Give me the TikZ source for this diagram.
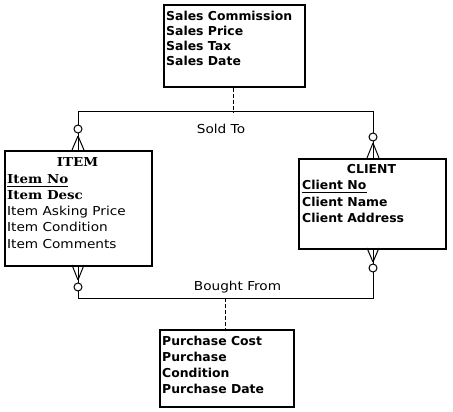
\documentclass[tikz,border=0pt]{standalone}
\usepackage{fontspec}
\setmainfont{DejaVu Sans}
\newfontfamily\sansreg[FakeStretch=1.11]{DejaVu Sans}
\newfontfamily\sansbld[FakeStretch=1.01]{DejaVu Sans}
\newfontfamily\serifbld[FakeStretch=1.09]{DejaVu Serif}
\begin{document}
\begin{tikzpicture}[x=1pt,y=-1pt,
  box/.style={draw,line width=1.6pt,inner sep=0pt,anchor=north west},
  attr/.style={anchor=base west,inner sep=0pt,font=\fontsize{12.3}{14}\selectfont\sansreg},
  battr/.style={attr,font=\fontsize{12.3}{14}\selectfont\sansbld\bfseries},
  sattr/.style={attr,font=\fontsize{12.3}{14}\selectfont\serifbld\bfseries},
  conn/.style={line width=1pt},
  rel/.style={line width=1pt,dash pattern=on 4pt off 2pt},
  lbl/.style={anchor=base,inner sep=0pt,font=\fontsize{12.3}{14}\selectfont\sansreg},
  ring/.style={draw,fill=white,circle,line width=1pt,minimum size=8pt,inner sep=0pt}]
\useasboundingbox (0,0) rectangle (453,412);
% boxes
\node[box,minimum width=141pt,minimum height=82pt] (sales) at (163,4) {};
\node[box,minimum width=147pt,minimum height=115pt] (item) at (4,150) {};
\node[box,minimum width=147pt,minimum height=90pt] (client) at (298,158) {};
\node[box,minimum width=134pt,minimum height=77pt] (purch) at (159,329) {};
% texts
\node[battr] (s1) at (166,21) {Sales Commission};
\node[battr] (s2) at (166,36) {Sales Price};
\node[battr] (s3) at (166,51) {Sales Tax};
\node[battr] (s4) at (166,66) {Sales Date};
\node[sattr,anchor=base] (ih) at (77.5,166) {ITEM};
\node[sattr] (i1) at (7,183) {Item No};
\draw[line width=1pt] ([yshift=-3pt]i1.base west) -- ([yshift=-3pt]i1.base east);
\node[sattr] (i2) at (7,199) {Item Desc};
\node[attr] (i3) at (7,215) {Item Asking Price};
\node[attr] (i4) at (7,231) {Item Condition};
\node[attr] (i5) at (7,248) {Item Comments};
\node[battr,anchor=base] (ch) at (371.5,173) {CLIENT};
\node[battr] (c1) at (302,189) {Client No};
\draw[line width=0.8pt] ([yshift=-3pt]c1.base west) -- ([yshift=-3pt]c1.base east);
\node[battr] (c2) at (302,206) {Client Name};
\node[battr] (c3) at (302,222) {Client Address};
\node[battr] (p1) at (162,345) {Purchase Cost};
\node[battr] (p2) at (162,361) {Purchase};
\node[battr] (p3) at (162,377) {Condition};
\node[battr] (p4) at (162,393) {Purchase Date};
% relationship lines
\coordinate (st1) at (78,112);
\coordinate (st2) at (373,112);
\coordinate (bf1) at (78,298);
\coordinate (bf2) at (373,298);
\coordinate (stm) at (233,112);
\coordinate (bfm) at (225,298);
\draw[conn] (item.north -| st1) -- (st1) -- (st2) -- (client.north -| st2);
\draw[conn] (item.south -| bf1) -- (bf1) -- (bf2) -- (client.south -| bf2);
\draw[rel] (sales.south -| stm) -- (stm);
\draw[rel] (bfm) -- (purch.north -| bfm);
\node[lbl] (soldto) at (221,134) {Sold To};
\node[lbl] (bought) at (237.5,290) {Bought From};
% crow's feet
\coordinate (ft1) at (78,136);
\draw[conn] (ft1) -- (72,150) (ft1) -- (84,150);
\node[ring] (r1) at (78,129) {};
\coordinate (ft2) at (78,280);
\draw[conn] (ft2) -- (72,265) (ft2) -- (84,265);
\node[ring] (r2) at (78,287) {};
\coordinate (ft3) at (373,143);
\draw[conn] (ft3) -- (367,158) (ft3) -- (379,158);
\node[ring] (r3) at (373,137) {};
\coordinate (ft4) at (373,262);
\draw[conn] (ft4) -- (367,248) (ft4) -- (379,248);
\node[ring] (r4) at (373,268) {};
\end{tikzpicture}
\end{document}
